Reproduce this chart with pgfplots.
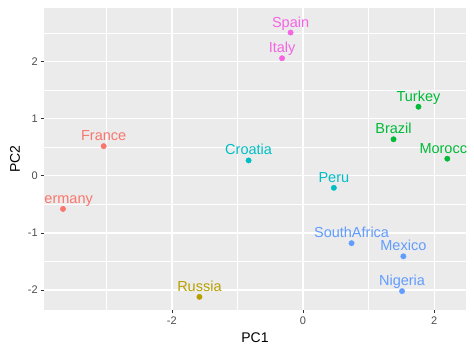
\documentclass[border=0pt]{standalone}
\usepackage{fontspec}
\setmainfont{Liberation Sans}
\usepackage{pgfplots}
\pgfplotsset{compat=1.18}
\definecolor{cA}{HTML}{F8766D}
\definecolor{cB}{HTML}{B79F00}
\definecolor{cC}{HTML}{00BA38}
\definecolor{cD}{HTML}{00BFC4}
\definecolor{cE}{HTML}{619CFF}
\definecolor{cF}{HTML}{F564E3}
\definecolor{gbg}{HTML}{EBEBEB}
\definecolor{gray20}{HTML}{333333}
\definecolor{gray30}{HTML}{4D4D4D}
\begin{document}
\begin{tikzpicture}
\useasboundingbox (0,0) rectangle (474pt,355pt);
\begin{axis}[at={(44pt,45pt)}, anchor=south west, width=422pt, height=302pt, scale only axis,
 xmin=-3.95, xmax=2.485, ymin=-2.35, ymax=2.94,
 axis background/.style={fill=gbg}, axis line style={draw=none},
 xtick={-2,0,2}, xticklabels={{-2},{0},{2}},
 ytick={-2,-1,0,1,2}, yticklabels={{-2},{-1},{0},{1},{2}},
 minor xtick={-3,-1,1}, minor ytick={-2.5,-1.5,-0.5,0.5,1.5,2.5},
 grid=both, major grid style={white, line width=1.3pt}, minor grid style={white, line width=0.65pt},
 tick align=outside, major tick length=3.5pt, minor tick length=0pt,
 tick style={gray20, line width=0.7pt},
 xtick pos=bottom, ytick pos=left,
 ticklabel style={font=\fontsize{11}{11}\selectfont, text=gray30},
 xticklabel style={inner sep=0pt, yshift=-3pt},
 yticklabel style={inner sep=0pt, xshift=-2.6pt},
 xlabel=PC1, ylabel=PC2, label style={font=\fontsize{14}{14}\selectfont},
 xlabel style={at={([yshift=-28pt]axis description cs:0.5,0)}, anchor=center},
 ylabel style={at={([xshift=-29pt]axis description cs:0,0.5)}, anchor=center},
 clip marker paths=true,
 every axis plot/.append style={only marks, mark=*, mark size=2.7pt, nodes near coords, point meta=explicit symbolic,
   nodes near coords style={font=\fontsize{14.5}{14.5}\selectfont, anchor=base, yshift=5.5pt, inner sep=0pt}},
]
\addplot[cA, mark options={draw=cA, fill=cA}] table[meta=label]{
x y label
-3.04 0.52 France
-3.66 -0.58 Germany
};
\addplot[cB, mark options={draw=cB, fill=cB}] table[meta=label]{
x y label
-1.58 -2.12 Russia
};
\addplot[cC, mark options={draw=cC, fill=cC}] table[meta=label]{
x y label
1.76 1.21 Turkey
1.38 0.64 Brazil
2.20 0.30 Morocco
};
\addplot[cD, mark options={draw=cD, fill=cD}] table[meta=label]{
x y label
-0.83 0.27 Croatia
0.47 -0.21 Peru
};
\addplot[cE, mark options={draw=cE, fill=cE}] table[meta=label]{
x y label
0.74 -1.18 SouthAfrica
1.53 -1.41 Mexico
1.51 -2.02 Nigeria
};
\addplot[cF, mark options={draw=cF, fill=cF}] table[meta=label]{
x y label
-0.19 2.51 Spain
-0.32 2.06 Italy
};
\end{axis}
\end{tikzpicture}
\end{document}
